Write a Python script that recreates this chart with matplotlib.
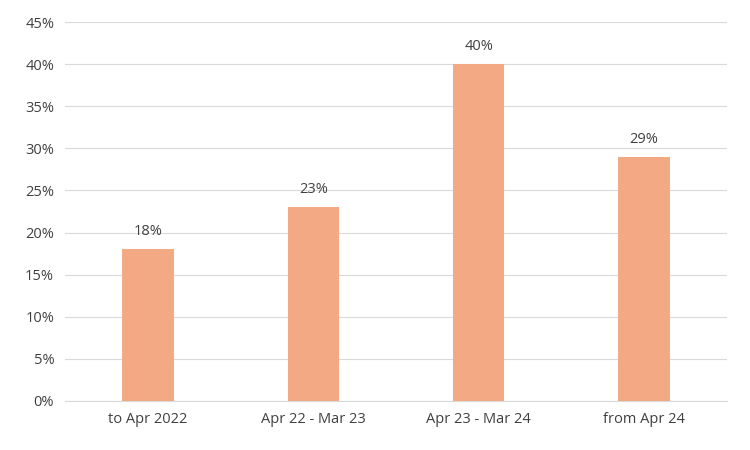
import matplotlib
matplotlib.use("Agg")
import matplotlib.pyplot as plt
from matplotlib.ticker import PercentFormatter

categories = ["to Apr 2022", "Apr 22 - Mar 23", "Apr 23 - Mar 24", "from Apr 24"]
values = [18, 23, 40, 29]
labels = ["18%", "23%", "40%", "29%"]

plt.rcParams['font.family'] = ['Open Sans', 'DejaVu Sans']
fig = plt.figure(figsize=(7.5, 4.5), dpi=100)
ax = fig.add_axes([0.087, 0.109, 0.882, 0.842])
x = range(len(categories))
ax.bar(x, values, width=0.31, color="#F3AA84", zorder=3)
for i, (v, l) in enumerate(zip(values, labels)):
    ax.text(i, v + 1.2, l, ha="center", va="bottom", fontsize=10.5, color="#404040")
ax.set_ylim(0, 45)
ax.set_xlim(-0.5, 3.5)
ax.set_yticks(range(0, 46, 5))
ax.yaxis.set_major_formatter(PercentFormatter(decimals=0))
ax.set_xticks(list(x))
ax.set_xticklabels(categories)
ax.grid(axis="y", color="#D9D9D9", linewidth=0.8, zorder=0)
for s in ["top", "right", "left"]:
    ax.spines[s].set_visible(False)
ax.spines["bottom"].set_color("#D9D9D9")
ax.tick_params(axis="both", length=0, labelsize=10.5, colors="#404040", pad=8)
fig.savefig("out.png", dpi=100)
